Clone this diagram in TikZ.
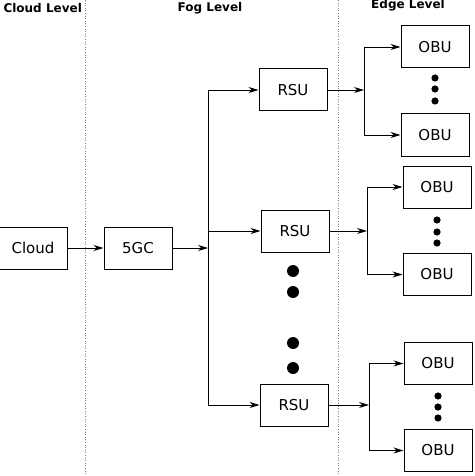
\documentclass[tikz,border=0pt]{standalone}
\usepackage{fontspec}
\setmainfont{DejaVu Sans}
\usetikzlibrary{arrows.meta}
\tikzset{
    box/.style={draw, line width=1pt, minimum width=68pt, minimum height=42pt,
        inner sep=0pt, font=\fontsize{15}{17}\selectfont},
    arr/.style={-{Stealth[length=10pt,width=6pt]}, line width=0.9pt},
    bus/.style={line width=0.9pt},
    level/.style={font=\bfseries\fontsize{12}{14}\selectfont},
    sep/.style={dotted, gray, line width=0.6pt}
}

\begin{document}
\begin{tikzpicture}[x=1pt,y=-1pt]
\useasboundingbox (0,0) rectangle (474,476);

% Level separators
\draw[sep] (85,0) -- (85,476);
\draw[sep] (338,0) -- (338,476);

% Level titles
\node[level, anchor=west] (cloudlvl) at (0,8) {Cloud Level};
\node[level] (foglvl) at (210,8) {Fog Level};
\node[level] (edgelvl) at (408,5) {Edge Level};

% Cloud and core
\node[box] (cloud) at (33,248) {Cloud};
\node[box] (fgc) at (138,248) {5GC};
\draw[arr] (cloud) -- (fgc);

% Fog level: RSUs
\node[box] (rsu1) at (293,90) {RSU};
\node[box] (rsu2) at (295,231) {RSU};
\node[box] (rsu3) at (294,405) {RSU};
\coordinate (bus) at (208,248);
\draw[arr] (fgc) -- (bus);
\draw[bus] (bus |- rsu1) -- (bus |- rsu3);
\foreach \r in {rsu1,rsu2,rsu3} {
    \draw[arr] (bus |- \r) -- (\r);
}
\foreach \y in {271,292,343,368} {
    \fill (293,\y) circle (6pt);
}

% Edge level: OBUs per RSU
\node[box] (obu1-top) at (435,47) {OBU};
\node[box] (obu1-bot) at (435,135) {OBU};
\node[box] (obu2-top) at (437,187) {OBU};
\node[box] (obu2-bot) at (437,274.5) {OBU};
\node[box] (obu3-top) at (438,363.5) {OBU};
\node[box] (obu3-bot) at (438,450.5) {OBU};
\foreach \g/\x in {1/364,2/367,3/369} {
    \coordinate (edge\g) at (\x,0);
    \draw[arr] (rsu\g) -- (rsu\g -| edge\g);
    \draw[bus] (edge\g |- obu\g-top) -- (edge\g |- obu\g-bot);
    \draw[arr] (edge\g |- obu\g-top) -- (obu\g-top);
    \draw[arr] (edge\g |- obu\g-bot) -- (obu\g-bot);
}
\foreach \x/\y in {435/78,435/89,435/101,437/220,437/232,437/243,438/396,438/407,438/418} {
    \fill (\x,\y) circle (3.6pt);
}
\end{tikzpicture}
\end{document}
